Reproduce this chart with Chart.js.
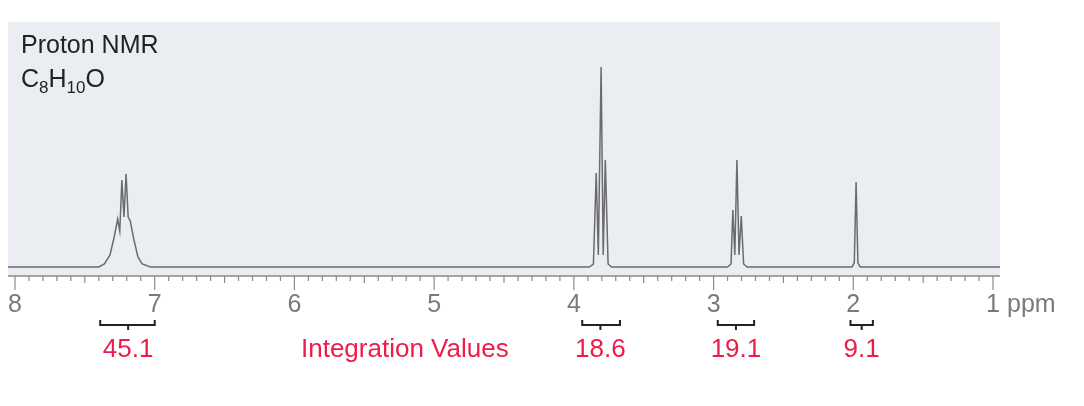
<!DOCTYPE html>
<html><head><meta charset="utf-8">
<script src="https://cdn.jsdelivr.net/npm/chart.js@4"></script>
<style>body{margin:0;background:#fff}#w{width:1084px;height:406px}</style>
</head><body><div id="w"><canvas id="c"></canvas></div>
<script>
const ppm = [8.05,7.40,7.36,7.32,7.29,7.265,7.25,7.235,7.22,7.205,7.19,7.175,7.15,7.12,7.09,7.03,
  3.89,3.86,3.84,3.825,3.805,3.79,3.775,3.755,3.73,
  2.90,2.875,2.862,2.848,2.833,2.818,2.802,2.785,2.76,
  2.01,1.993,1.98,1.967,1.95,0.95];
const intensity = [0,0,3,12,30,48,36,87,50,93,50,46,28,10,3,0,
  0,3,94,12,200,12,107,3,0,
  0,3,57,12,107,12,51,3,0,
  0,4,85,4,0,0];
const majorTicks = [8,7,6,5,4,3,2,1];
const integrals = [45.1,18.6,19.1,9.1];
const intFrom = [7.39,3.94,2.97,2.02];
const intTo = [7.00,3.67,2.71,1.86];
const intMid = [7.19,3.81,2.84,1.94];
const titleLines = ['Proton NMR'];

const F='"Liberation Sans", Arial, sans-serif';
const deco = {
  id:'deco',
  beforeDraw(ch){
    const {ctx,chartArea:a}=ch;
    ctx.save();ctx.fillStyle='#eaeef2';
    ctx.fillRect(a.left,a.top,a.right-a.left,a.bottom-a.top);ctx.restore();
  },
  afterDraw(ch){
    const {ctx,chartArea:a,scales:{x}}=ch;
    ctx.save();
    const ay=a.bottom;
    ctx.strokeStyle='#8a8a8a';ctx.lineWidth=1.5;
    ctx.beginPath();ctx.moveTo(a.left,ay);ctx.lineTo(a.right,ay);ctx.stroke();
    ctx.lineWidth=1.2;
    for(let i=10;i<=80;i++){
      const v=i/10, px=x.getPixelForValue(v);
      const major=i%10===0, half=i%5===0;
      ctx.beginPath();ctx.moveTo(px,ay);ctx.lineTo(px,ay+(major?14:half?7:5));ctx.stroke();
    }
    ctx.fillStyle='#7a7a7a';ctx.font='25px '+F;
    ctx.textAlign='center';ctx.textBaseline='top';
    majorTicks.forEach(t=>ctx.fillText(String(t),x.getPixelForValue(t),ay+17));
    ctx.textAlign='left';ctx.fillText('ppm',x.getPixelForValue(1)+14,ay+17);
    const by=325;
    ctx.font='26px '+F;
    integrals.forEach((v,i)=>{
      const x1=x.getPixelForValue(intFrom[i]),x2=x.getPixelForValue(intTo[i]),xm=x.getPixelForValue(intMid[i]);
      ctx.strokeStyle='#222';ctx.lineWidth=2;
      ctx.beginPath();ctx.moveTo(x1,by-5);ctx.lineTo(x1,by);ctx.lineTo(x2,by);ctx.lineTo(x2,by-5);
      ctx.moveTo(xm,by);ctx.lineTo(xm,by+5);ctx.stroke();
      ctx.fillStyle='#ee1c4a';ctx.textAlign='center';ctx.textBaseline='middle';
      ctx.fillText(v.toFixed(1),xm,350);
    });
    ctx.fillText('Integration Values',x.getPixelForValue(5.21),350);
    ctx.fillStyle='#222';ctx.textAlign='left';ctx.textBaseline='alphabetic';
    ctx.font='25px '+F;
    ctx.fillText(titleLines[0],21,53);
    let cx=21;const parts=[['C',0],['8',1],['H',0],['10',1],['O',0]];
    parts.forEach(([s,sub])=>{
      ctx.font=(sub?'17px ':'25px ')+F;
      ctx.fillText(s,cx,sub?93:87);cx+=ctx.measureText(s).width;
    });
    ctx.restore();
  }
};

new Chart(document.getElementById('c'),{
  type:'line',
  data:{datasets:[{data:ppm.map((p,i)=>({x:p,y:intensity[i]})),borderColor:'#6b6b6b',borderWidth:1.5,pointRadius:0,tension:0,fill:false}]},
  options:{responsive:true,maintainAspectRatio:false,animation:false,
    layout:{padding:{left:8,right:84,top:22,bottom:130}},
    plugins:{legend:{display:false},tooltip:{enabled:false}},
    scales:{
      x:{type:'linear',reverse:true,min:0.95,max:8.05,display:false},
      y:{min:-9,max:245,display:false}
    }},
  plugins:[deco]
});
</script></body></html>
